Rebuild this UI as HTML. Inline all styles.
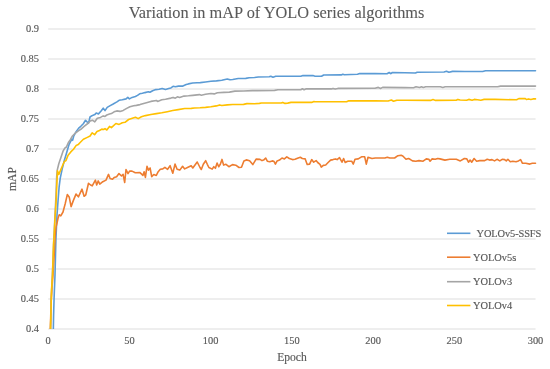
<!DOCTYPE html>
<html><head><meta charset="utf-8"><style>
html,body{margin:0;padding:0;background:#fff;}
svg{display:block;}
text{font-family:"Liberation Serif","Times New Roman",serif;fill:#595959;stroke:#595959;stroke-width:0.15px;}
</style></head><body>
<svg width="550" height="369" viewBox="0 0 550 369">
<rect width="550" height="369" fill="#fff"/>
<text x="276.6" y="18" font-size="16.35" style="stroke-width:0.08px" text-anchor="middle">Variation in mAP of YOLO series algorithms</text>
<g stroke="#e8e8e8" stroke-width="1.5"><line x1="48.2" y1="28.9" x2="535.5" y2="28.9"/><line x1="48.2" y1="58.9" x2="535.5" y2="58.9"/><line x1="48.2" y1="88.9" x2="535.5" y2="88.9"/><line x1="48.2" y1="118.9" x2="535.5" y2="118.9"/><line x1="48.2" y1="148.9" x2="535.5" y2="148.9"/><line x1="48.2" y1="178.9" x2="535.5" y2="178.9"/><line x1="48.2" y1="208.9" x2="535.5" y2="208.9"/><line x1="48.2" y1="238.9" x2="535.5" y2="238.9"/><line x1="48.2" y1="268.9" x2="535.5" y2="268.9"/><line x1="48.2" y1="298.9" x2="535.5" y2="298.9"/><line x1="48.2" y1="328.9" x2="535.5" y2="328.9"/></g>
<g font-size="10.4" text-anchor="end"><text x="39" y="31.7">0.9</text><text x="39" y="61.7">0.85</text><text x="39" y="91.7">0.8</text><text x="39" y="121.7">0.75</text><text x="39" y="151.7">0.7</text><text x="39" y="181.7">0.65</text><text x="39" y="211.7">0.6</text><text x="39" y="241.7">0.55</text><text x="39" y="271.7">0.5</text><text x="39" y="301.7">0.45</text><text x="39" y="331.7">0.4</text></g>
<g font-size="10.4" text-anchor="middle"><text x="48.2" y="343.5">0</text><text x="129.4" y="343.5">50</text><text x="210.6" y="343.5">100</text><text x="291.9" y="343.5">150</text><text x="373.1" y="343.5">200</text><text x="454.3" y="343.5">250</text><text x="535.5" y="343.5">300</text></g>
<text x="292" y="361.2" font-size="11.6" text-anchor="middle">Epoch</text>
<text transform="translate(15.6,179) rotate(-90)" font-size="11.6" text-anchor="middle">mAP</text>
<clipPath id="c"><rect x="40" y="20" width="500" height="309"/></clipPath>
<g fill="none" stroke-width="1.6" stroke-linejoin="round" stroke-linecap="round" clip-path="url(#c)">
<polyline stroke="#5B9BD5" points="53.3,331.0 53.6,315.0 54.1,298.0 55.0,275.0 55.9,240.0 57.0,215.0 58.1,200.0 59.1,187.1 60.2,178.4 62.1,169.3 64.3,160.5 65.9,155.2 67.5,149.8 69.1,144.3 70.8,141.1 71.8,139.5 72.6,140.3 73.8,135.9 76.3,131.4 78.7,128.1 80.8,126.3 83.3,123.7 85.5,120.3 86.8,121.6 88.6,123.1 90.0,117.0 92.0,115.7 94.8,114.6 96.2,113.0 98.5,113.9 101.3,110.8 103.2,108.2 105.0,110.6 107.2,107.4 110.2,105.6 113.2,104.0 116.9,101.9 119.1,100.3 122.3,99.8 126.1,98.9 127.8,97.4 129.4,98.9 132.1,97.4 135.4,96.5 137.5,95.4 139.7,93.8 142.4,93.3 145.0,92.6 148.3,91.8 149.9,92.3 152.6,90.7 155.8,89.6 159.1,89.3 162.2,88.5 165.5,89.4 168.7,88.5 170.9,87.9 173.1,86.3 175.3,86.8 178.5,86.1 182.9,86.1 186.2,84.6 188.4,83.9 192.7,83.0 197.1,82.8 200.3,82.6 205.5,82.0 210.9,81.3 216.4,80.9 221.8,80.2 227.3,79.0 230.0,79.8 232.7,79.5 238.2,78.5 245.8,78.4 249.1,77.7 254.5,77.5 258.3,77.0 269.2,76.8 270.8,76.3 273.0,77.3 275.7,76.3 285.0,76.3 300.8,76.3 303.0,75.5 313.0,75.6 315.0,76.2 321.5,76.3 323.7,75.0 341.2,74.9 342.8,74.2 344.4,74.7 357.5,74.3 359.7,73.5 375.0,73.6 387.0,73.7 389.2,72.5 390.8,73.7 392.4,72.5 405.0,72.7 415.4,73.0 417.2,72.2 444.0,72.0 446.5,71.2 448.9,72.3 452.6,71.4 465.0,71.5 482.7,71.5 485.5,70.7 535.5,70.7"/>
<polyline stroke="#ED7D31" points="50.3,331.0 51.2,300.0 52.2,285.0 53.0,275.0 54.2,255.0 55.2,235.0 56.0,227.0 57.0,223.0 58.1,218.0 59.2,214.7 60.8,215.8 63.0,212.0 65.2,203.8 67.3,194.6 69.3,197.3 71.1,206.6 73.3,200.6 76.0,194.1 78.4,196.8 82.0,189.2 84.1,196.3 85.8,194.8 88.5,183.3 90.6,185.0 92.2,185.8 95.4,180.1 96.7,185.0 98.2,180.9 99.8,184.1 102.8,181.7 106.0,180.1 108.5,174.4 110.1,178.5 112.5,179.3 114.1,177.6 116.6,176.8 119.0,173.6 121.5,176.0 123.1,174.4 124.7,182.5 126.0,169.5 128.0,173.6 129.6,171.1 132.0,171.1 135.3,172.8 140.0,172.6 141.6,174.1 142.9,175.4 144.1,171.7 145.4,177.4 147.0,166.3 148.5,170.1 150.1,168.0 151.7,176.6 153.8,174.5 156.3,175.4 158.2,171.7 160.3,169.3 162.8,168.9 164.9,167.3 167.6,169.3 170.1,165.7 172.8,173.3 175.0,164.1 177.1,169.3 179.8,170.1 182.6,166.3 184.7,168.9 188.0,167.3 191.2,165.7 192.8,168.0 197.2,162.0 200.0,167.5 201.3,169.5 203.3,164.3 205.7,160.7 207.3,164.3 208.9,167.5 212.2,169.1 213.8,166.7 215.4,168.3 217.1,163.0 218.7,166.7 220.3,164.3 222.0,159.4 223.6,165.1 226.0,164.3 228.9,166.7 232.5,164.6 235.8,165.2 239.0,167.5 241.5,167.2 243.9,161.0 246.3,159.9 249.6,160.7 252.8,164.6 256.1,159.1 260.0,159.4 262.0,160.6 263.6,160.1 265.7,158.0 267.3,161.2 269.8,161.7 272.2,160.9 273.8,161.2 275.4,164.1 277.1,160.9 279.5,160.1 282.0,158.0 284.4,158.9 286.8,156.8 289.3,158.5 292.5,159.6 295.0,159.3 298.2,158.0 300.3,157.3 302.3,158.5 305.2,158.9 307.2,164.5 309.6,164.1 311.7,159.6 313.7,162.2 316.1,160.6 317.7,162.5 320.0,164.3 321.3,167.1 323.3,165.4 325.7,165.0 328.1,162.5 330.6,160.1 333.0,159.6 335.4,158.9 337.1,159.6 339.5,157.6 342.0,162.2 343.6,158.5 345.2,162.5 347.6,161.2 351.7,161.2 353.3,164.1 355.0,159.3 358.2,158.9 361.5,156.8 364.7,156.8 366.3,164.1 368.0,157.3 372.0,158.5 375.3,158.0 380.0,158.0 384.9,158.0 387.3,157.3 389.8,158.0 394.6,158.0 397.9,155.7 401.1,155.2 402.8,156.0 406.0,159.3 408.5,158.5 410.1,159.3 412.5,160.9 415.8,161.2 419.0,160.6 423.1,161.2 426.3,158.9 428.8,159.3 430.1,161.2 432.0,158.9 435.3,159.3 437.7,158.5 440.0,158.9 444.9,160.1 449.8,159.3 456.3,159.3 460.3,160.9 464.4,158.5 466.8,158.9 468.5,162.2 470.1,160.1 471.7,162.2 474.1,158.5 476.6,161.2 479.8,160.6 484.7,160.6 487.2,159.3 489.6,160.1 492.0,159.6 494.5,160.9 497.0,159.3 499.8,160.9 502.2,159.3 504.6,159.6 506.3,160.9 507.9,159.3 510.3,161.7 512.8,161.2 516.0,161.7 518.5,160.9 520.6,159.6 522.5,163.3 525.8,163.3 529.8,164.1 532.3,163.3 535.5,163.3"/>
<polyline stroke="#A5A5A5" points="50.6,331.0 51.2,300.0 52.6,270.0 53.8,240.0 55.0,215.0 56.0,195.0 56.7,176.3 57.2,170.4 58.8,163.8 61.0,157.3 63.2,150.8 64.8,148.1 66.4,147.0 68.6,142.2 70.2,140.0 72.2,136.3 75.4,133.0 78.7,130.6 80.8,129.3 84.1,126.3 87.8,123.5 90.2,121.0 92.4,120.2 94.8,121.8 97.3,118.3 100.5,117.4 103.2,115.9 105.0,116.4 106.8,115.0 109.5,114.1 111.4,113.6 114.1,111.8 116.8,110.9 120.0,111.4 123.2,110.4 126.7,108.4 129.9,106.8 133.7,105.7 136.4,105.4 140.0,104.6 145.5,102.9 150.9,101.4 156.4,100.5 157.6,101.4 161.8,99.8 165.5,99.2 170.9,98.1 173.1,97.4 175.3,98.2 177.4,96.8 179.6,97.5 184.0,96.1 188.4,95.8 192.7,95.4 197.1,94.9 199.5,94.6 201.3,95.2 205.5,94.3 210.9,93.5 214.2,93.9 217.4,92.7 224.0,92.4 229.4,92.1 234.9,91.1 243.6,91.0 252.3,90.6 256.7,90.6 274.6,90.4 277.9,89.7 300.8,89.7 302.4,88.8 304.1,89.8 306.3,88.8 315.0,88.9 331.4,88.9 333.0,88.4 335.2,89.1 337.9,88.4 375.0,88.2 378.3,87.4 380.5,88.5 382.6,87.4 405.0,87.6 413.5,87.7 416.0,86.8 419.6,87.5 421.5,86.8 423.3,87.5 425.7,86.8 440.4,86.8 442.8,87.5 445.2,86.8 465.0,86.8 497.7,86.8 500.5,86.1 535.5,86.1"/>
<polyline stroke="#FFC000" points="50.4,331.0 50.9,315.0 51.5,290.0 52.5,275.0 53.5,245.0 54.3,232.0 55.2,215.0 56.2,200.0 56.8,185.0 57.5,170.8 58.8,174.5 60.5,170.4 62.6,165.5 64.3,161.7 65.9,160.6 68.1,155.2 70.8,151.9 73.5,149.2 76.2,145.4 78.2,144.6 79.9,142.8 83.4,139.3 86.8,137.6 90.1,136.0 92.1,132.8 94.6,134.7 97.0,131.5 99.5,130.5 101.8,129.1 103.6,129.5 105.0,128.6 106.8,130.0 109.5,126.4 111.4,127.7 115.9,123.5 119.1,124.4 122.3,122.7 125.0,122.3 128.6,119.5 132.3,118.2 135.5,117.3 138.2,118.6 141.4,116.8 145.5,115.6 150.9,114.5 156.4,113.6 161.8,112.8 167.3,111.7 172.7,110.5 178.2,109.6 184.7,108.5 191.3,108.4 194.5,108.0 200.0,107.8 205.5,107.4 210.9,106.8 216.4,105.9 219.6,104.9 221.8,105.5 227.3,104.9 232.7,104.5 243.6,104.4 246.9,103.6 254.5,103.7 259.4,103.4 261.5,103.0 281.2,103.0 282.8,102.4 285.0,103.4 287.7,103.1 291.0,102.4 311.7,102.4 313.9,101.5 315.0,101.7 346.6,101.8 348.8,100.8 375.0,100.9 388.1,101.0 391.4,100.0 393.5,101.2 396.8,100.2 405.0,100.3 430.6,100.4 433.0,99.6 435.5,100.4 456.2,100.3 457.9,99.4 460.1,100.0 466.6,100.2 468.8,99.4 472.1,100.2 474.3,99.4 477.5,99.7 480.8,100.2 484.1,99.4 495.0,99.4 516.6,99.8 518.8,98.6 525.3,98.6 526.4,99.5 528.6,98.9 530.8,99.5 533.0,98.9 535.5,98.9"/>
</g>
<g stroke-width="1.6">
<line x1="447" y1="233.3" x2="470.4" y2="233.3" stroke="#5B9BD5"/>
<line x1="447" y1="257.2" x2="470.4" y2="257.2" stroke="#ED7D31"/>
<line x1="447" y1="281.7" x2="470.4" y2="281.7" stroke="#A5A5A5"/>
<line x1="447" y1="305.5" x2="470.4" y2="305.5" stroke="#FFC000"/>
</g>
<g font-size="10.4">
<text x="476.5" y="237" textLength="64.8">YOLOv5-SSFS</text>
<text x="473" y="260.8">YOLOv5s</text>
<text x="473" y="285.2">YOLOv3</text>
<text x="473" y="309.4">YOLOv4</text>
</g>
</svg>
</body></html>
